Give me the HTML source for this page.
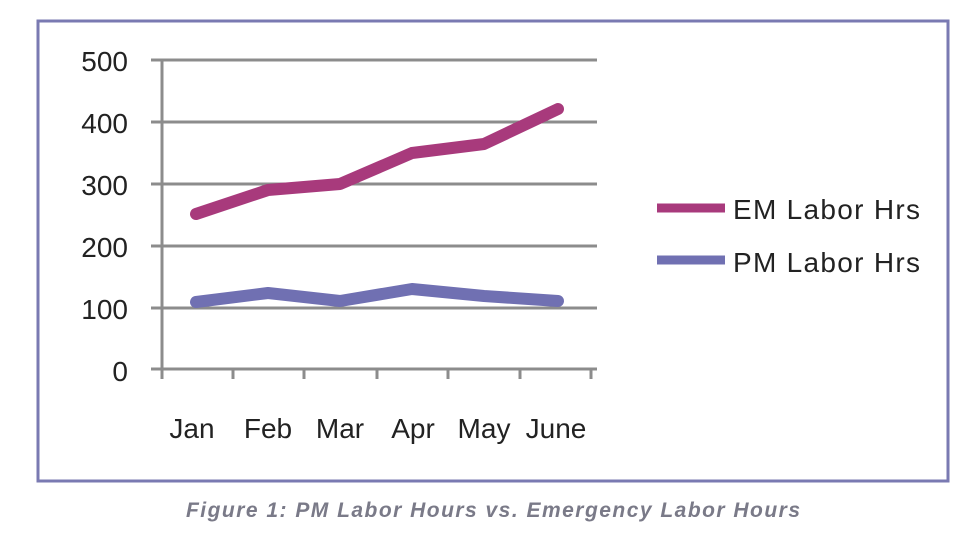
<!DOCTYPE html>
<html><head><style>
body{margin:0;background:#fff;width:980px;height:538px;overflow:hidden;font-family:"Liberation Sans",sans-serif}
</style></head><body>
<svg width="980" height="538" viewBox="0 0 980 538">
<rect x="38" y="21" width="910" height="460" fill="#fff" stroke="#7a7ab2" stroke-width="3"/>
<g stroke="#8c8c8c" stroke-width="3">
<line x1="151" y1="60" x2="597" y2="60"/>
<line x1="151" y1="122" x2="597" y2="122"/>
<line x1="151" y1="184" x2="597" y2="184"/>
<line x1="151" y1="246" x2="597" y2="246"/>
<line x1="151" y1="308" x2="597" y2="308"/>
<line x1="151" y1="369" x2="597" y2="369"/>
<line x1="162" y1="60" x2="162" y2="379"/>
<line x1="233" y1="369" x2="233" y2="379"/>
<line x1="304" y1="369" x2="304" y2="379"/>
<line x1="377" y1="369" x2="377" y2="379"/>
<line x1="448" y1="369" x2="448" y2="379"/>
<line x1="520" y1="369" x2="520" y2="379"/>
<line x1="591" y1="369" x2="591" y2="379"/>
</g>
<g font-size="28" fill="#222" text-anchor="end">
<text x="128" y="71">500</text><text x="128" y="133">400</text><text x="128" y="195">300</text>
<text x="128" y="257">200</text><text x="128" y="319">100</text><text x="128" y="381">0</text>
</g>
<g font-size="28" fill="#222" text-anchor="middle">
<text x="192" y="438">Jan</text><text x="268" y="438">Feb</text><text x="340" y="438">Mar</text>
<text x="413" y="438">Apr</text><text x="484" y="438">May</text><text x="556" y="438">June</text>
</g>
<polyline points="196,214 268,190 340,184 412,153 484,144 558,109" fill="none" stroke="#a83a7c" stroke-width="12" stroke-linejoin="round" stroke-linecap="round"/>
<polyline points="196,302 268,293 340,301 412,289 484,296 558,301" fill="none" stroke="#7070b2" stroke-width="12" stroke-linejoin="round" stroke-linecap="round"/>
<line x1="657" y1="208" x2="725" y2="208" stroke="#a83a7c" stroke-width="9"/>
<line x1="657" y1="260" x2="725" y2="260" stroke="#7070b2" stroke-width="9"/>
<g font-size="28" fill="#222">
<text x="733" y="219" textLength="187">EM Labor Hrs</text>
<text x="733" y="272" textLength="187">PM Labor Hrs</text>
</g>
<text x="186" y="517" font-size="21" font-weight="bold" font-style="italic" fill="#7a7a88" textLength="614">Figure 1: PM Labor Hours vs. Emergency Labor Hours</text>
</svg>
</body></html>
